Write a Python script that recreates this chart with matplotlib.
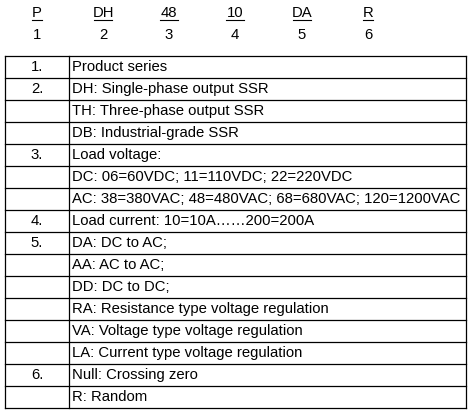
import matplotlib.pyplot as plt

codes = ["P", "DH", "48", "10", "DA", "R"]
code_nums = ["1", "2", "3", "4", "5", "6"]
row_nums = ["1.", "2.", "", "", "3.", "", "", "4.", "5.", "", "", "", "", "", "6.", ""]
row_texts = [
    "Product series",
    "DH: Single-phase output SSR",
    "TH: Three-phase output SSR",
    "DB: Industrial-grade SSR",
    "Load voltage:",
    "DC: 06=60VDC; 11=110VDC; 22=220VDC",
    "AC: 38=380VAC; 48=480VAC; 68=680VAC; 120=1200VAC",
    "Load current: 10=10A……200=200A",
    "DA: DC to AC;",
    "AA: AC to AC;",
    "DD: DC to DC;",
    "RA: Resistance type voltage regulation",
    "VA: Voltage type voltage regulation",
    "LA: Current type voltage regulation",
    "Null: Crossing zero",
    "R: Random",
]

plt.rcParams['font.family'] = ['Liberation Sans', 'DejaVu Sans']
fig = plt.figure(figsize=(4.72, 4.13), dpi=100)
ax = fig.add_axes([0, 0, 1, 1])
ax.set_xlim(0, 472)
ax.set_ylim(413, 0)
ax.axis('off')

fs = 10.7
code_x = [37, 103, 169, 235, 302, 368]
for x, c, n in zip(code_x, codes, code_nums):
    ax.text(x, 13, c, ha='center', va='center', fontsize=fs)
    w = {1: 5, 2: 9}[len(c)]
    ax.plot([x - w, x + w], [20, 20], color='black', lw=0.8)
    ax.text(x, 35, n, ha='center', va='center', fontsize=fs)

left, mid, right = 4.5, 69, 466
top, bottom = 55.5, 408
h = (bottom - top) / len(row_texts)
for i in range(len(row_texts) + 1):
    y = top + i * h
    ax.plot([left, right], [y, y], color='black', lw=0.9)
for x in (left, mid, right):
    ax.plot([x, x], [top, bottom], color='black', lw=0.9)
for i, (n, t) in enumerate(zip(row_nums, row_texts)):
    yc = top + (i + 0.5) * h
    ax.text(37, yc, n, ha='center', va='center', fontsize=fs)
    ax.text(72, yc, t, ha='left', va='center', fontsize=fs)

fig.savefig('out.png', dpi=100)
